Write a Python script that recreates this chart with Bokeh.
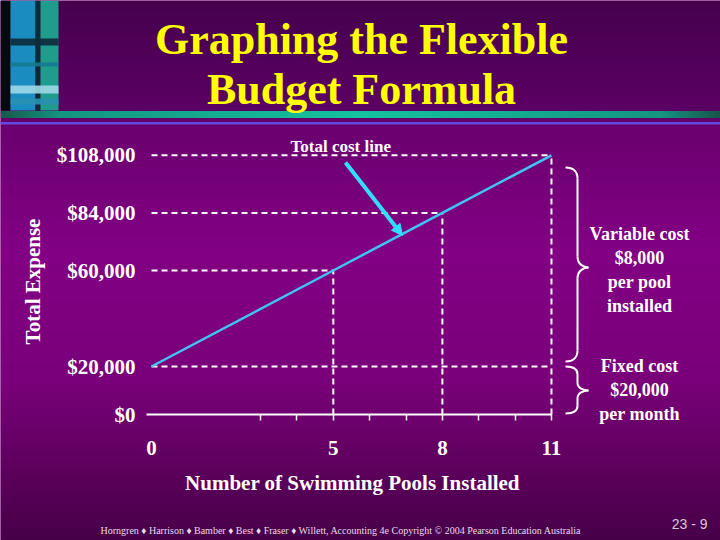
import numpy as np
from bokeh.plotting import figure
from bokeh.models import LinearAxis, FixedTicker, Arrow, NormalHead
from bokeh.core.properties import value
from bokeh.embed import file_html
from bokeh.resources import INLINE

# ---------------- data ----------------
pools = [0, 5, 8, 11]
total_cost = [20000, 60000, 84000, 108000]
fixed_cost = 20000
variable_cost_per_pool = 8000
y_tick_values = [0, 20000, 60000, 84000, 108000]
y_tick_labels = ["$0", "$20,000", "$60,000", "$84,000", "$108,000"]
x_tick_values = [0, 5, 8, 11]
x_tick_labels = ["0", "5", "8", "11"]
x_minor_ticks = [3, 4, 5, 6, 7, 8, 9, 10, 11]

title_lines = ["Graphing the Flexible", "Budget Formula"]
y_title = "Total Expense"
x_title = "Number of Swimming Pools Installed"
line_note = "Total cost line"
variable_note = ["Variable cost", "$8,000", "per pool", "installed"]
fixed_note = ["Fixed cost", "$20,000", "per month"]
footer = ("Horngren \u2666 Harrison \u2666 Bamber \u2666 Best \u2666 Fraser \u2666 Willett, "
          "Accounting 4e Copyright \u00a9 2004 Pearson Education Australia")
slide_no = "23 - 9"

# ---------------- geometry ----------------
OFF = 0                       # canvas offset on the page
W, H = 720, 540
PX_X, X0 = 36.36, 151.0       # px per pool, px of 0 pools (reference pixels)
PX_D, Y0 = 0.0024, 414.0      # px per dollar, px of $0 (reference pixels)


def gx(X):
    return (X - X0) / PX_X


def gy(Y):
    return (Y0 - Y) / PX_D


SERIF = value("Liberation Serif")
WHITE = "#ffffff"

p = figure(width=W, height=H, output_backend="svg", toolbar_location=None,
           x_range=(gx(OFF), gx(OFF + W)), y_range=(gy(OFF + H), gy(OFF)),
           x_axis_type=None, y_axis_type=None, min_border=0)
p.outline_line_color = None
p.background_fill_color = "#800080"
p.border_fill_color = "#800080"
p.grid.visible = False

# background gradient
stopsY = [0, 110, 130, 250, 380, 460, 540]
stopsR = [70, 92, 108, 130, 122, 96, 70]
stopsB = [78, 100, 112, 132, 122, 96, 72]
rows = np.arange(H)
refY = OFF + H - rows - 0.5
r = np.interp(refY, stopsY, stopsR)
b = np.interp(refY, stopsY, stopsB)
bg = np.zeros((H, 1, 4), dtype=np.uint8)
bg[:, 0, 0] = r
bg[:, 0, 1] = 0
bg[:, 0, 2] = b
bg[:, 0, 3] = 255
p.image_rgba(image=[bg.view(np.uint32).reshape(H, 1)], x=gx(OFF), y=gy(OFF + H),
             dw=gx(OFF + W) - gx(OFF), dh=gy(OFF) - gy(OFF + H))

# top-left decoration
dec_l = [0, 10, 35, 40]
dec_r = [10, 35, 40, 58]
dec_c = ["#050a10", "#1a8cc0", "#0c2a38", "#1f9c8c"]
p.quad(left=[gx(v) for v in dec_l], right=[gx(v) for v in dec_r],
       top=[gy(0)] * 4, bottom=[gy(110)] * 4, fill_color=dec_c, line_color=None)
p.quad(left=[gx(10)] * 4, right=[gx(58)] * 4,
       top=[gy(38), gy(62), gy(85), gy(98)], bottom=[gy(45), gy(66), gy(93), gy(104)],
       fill_color=["#0c2a38", "#147a90", "#9fd8e8", "#2a90b0"], line_color=None, fill_alpha=0.9)

# teal bar with horizontal gradient
NB = 200
tx = np.linspace(0, 1, NB)
tr = np.interp(tx, [0, 0.08, 0.5, 0.92, 1], [25, 20, 20, 20, 25])
tg = np.interp(tx, [0, 0.08, 0.5, 0.92, 1], [90, 150, 195, 150, 85])
tb = np.interp(tx, [0, 0.08, 0.5, 0.92, 1], [75, 130, 160, 130, 75])
bar = np.zeros((1, NB, 4), dtype=np.uint8)
bar[0, :, 0] = tr
bar[0, :, 1] = tg
bar[0, :, 2] = tb
bar[0, :, 3] = 255
p.image_rgba(image=[bar.view(np.uint32).reshape(1, NB)], x=gx(0), y=gy(117.5),
             dw=gx(720) - gx(0), dh=gy(110.5) - gy(117.5))
p.quad(left=[gx(0)], right=[gx(720)], top=[gy(121.5)], bottom=[gy(124)],
       fill_color="#6048e0", line_color=None)

# title
p.text(x=[gx(361)] * 2, y=[gy(39), gy(89)], text=title_lines, text_font=SERIF,
       text_font_style="bold", text_font_size="44px", text_color="#ffff00",
       text_align="center", text_baseline="middle")

# dashed guide lines (horizontal to each point, vertical from each point)
xmax = pools[-1]
h_x0 = [0] * 4
h_x1 = [xmax if c in (fixed_cost, total_cost[-1]) else x for x, c in zip(pools, total_cost)]
p.segment(x0=h_x0, y0=total_cost, x1=h_x1, y1=total_cost,
          line_color=WHITE, line_width=2, line_dash="6 4")
p.segment(x0=pools[1:], y0=[0] * 3, x1=pools[1:], y1=total_cost[1:],
          line_color=WHITE, line_width=2, line_dash="6 4")

# total cost line
p.line(pools, total_cost, line_color="#40c4f4", line_width=2.5)

# axes
xaxis = LinearAxis(fixed_location=0,
                   ticker=FixedTicker(ticks=x_tick_values, minor_ticks=x_minor_ticks),
                   bounds=(gx(146), xmax),
                   major_label_overrides=dict(zip(x_tick_values, x_tick_labels)),
                   axis_line_color=WHITE, axis_line_width=2,
                   major_tick_line_color=None, major_tick_in=0, major_tick_out=0,
                   minor_tick_line_color=WHITE, minor_tick_line_width=1.5,
                   minor_tick_in=0, minor_tick_out=6,
                   major_label_standoff=20,
                   major_label_text_color=WHITE, major_label_text_font="Liberation Serif",
                   major_label_text_font_style="bold", major_label_text_font_size="21px")
p.add_layout(xaxis, "below")

yaxis = LinearAxis(fixed_location=gx(147),
                   ticker=FixedTicker(ticks=y_tick_values, minor_ticks=[]),
                   major_label_overrides=dict(zip(y_tick_values, y_tick_labels)),
                   axis_line_color=None, major_tick_line_color=None,
                   minor_tick_line_color=None, major_tick_in=0, major_tick_out=0,
                   major_label_standoff=12,
                   major_label_text_color=WHITE, major_label_text_font="Liberation Serif",
                   major_label_text_font_style="bold", major_label_text_font_size="21px")
p.add_layout(yaxis, "left")

# axis titles
p.text(x=[gx(32)], y=[gy(281)], text=[y_title], angle=np.pi / 2, text_font=SERIF,
       text_font_style="bold", text_font_size="21px", text_color=WHITE,
       text_align="center", text_baseline="middle")
p.text(x=[gx(352)], y=[gy(482)], text=[x_title], text_font=SERIF,
       text_font_style="bold", text_font_size="21px", text_color=WHITE,
       text_align="center", text_baseline="middle")

# callout
p.text(x=[gx(290)], y=[gy(146)], text=[line_note], text_font=SERIF,
       text_font_style="bold", text_font_size="17px", text_color=WHITE,
       text_align="left", text_baseline="middle")
p.add_layout(Arrow(end=NormalHead(size=11, fill_color="#33ddff", line_color="#33ddff"),
                   x_start=gx(345), y_start=gy(162), x_end=gx(402), y_end=gy(235),
                   line_color="#33ddff", line_width=4))


# braces
def brace(top, bot, mid, xe=565, xs=577, xt=588):
    rr = min(11, (mid - top) / 3, (bot - mid) / 3)
    return [
        ((xe, top), (xs, top + rr), (xs - 4, top), (xs, top + rr * 0.4)),
        ((xs, top + rr), (xs, mid - rr), (xs, top + rr), (xs, mid - rr)),
        ((xs, mid - rr), (xt, mid), (xs, mid - rr * 0.3), (xt - 5, mid)),
        ((xt, mid), (xs, mid + rr), (xt - 5, mid), (xs, mid + rr * 0.3)),
        ((xs, mid + rr), (xs, bot - rr), (xs, mid + rr), (xs, bot - rr)),
        ((xs, bot - rr), (xe, bot), (xs, bot - rr * 0.4), (xs - 4, bot)),
    ]


segs = brace(167, 361, 267) + brace(366, 413, 390)
p.bezier(x0=[gx(s[0][0]) for s in segs], y0=[gy(s[0][1]) for s in segs],
         x1=[gx(s[1][0]) for s in segs], y1=[gy(s[1][1]) for s in segs],
         cx0=[gx(s[2][0]) for s in segs], cy0=[gy(s[2][1]) for s in segs],
         cx1=[gx(s[3][0]) for s in segs], cy1=[gy(s[3][1]) for s in segs],
         line_color=WHITE, line_width=2)

p.text(x=[gx(639)] * 4, y=[gy(v) for v in (233, 257, 281, 305)], text=variable_note,
       text_font=SERIF, text_font_style="bold", text_font_size="18px", text_color=WHITE,
       text_align="center", text_baseline="middle")
p.text(x=[gx(639)] * 3, y=[gy(v) for v in (365, 389, 413)], text=fixed_note,
       text_font=SERIF, text_font_style="bold", text_font_size="18px", text_color=WHITE,
       text_align="center", text_baseline="middle")

# footer
p.text(x=[gx(100)], y=[gy(530)], text=[footer], text_font=SERIF,
       text_font_size="10px", text_color="#e8dce8",
       text_align="left", text_baseline="middle")
p.text(x=[gx(707)], y=[gy(523)], text=[slide_no], text_font=value("Liberation Sans"),
       text_font_size="14px", text_color="#d8c8d8",
       text_align="right", text_baseline="middle")

open("out.html", "w").write(file_html(p, INLINE))
